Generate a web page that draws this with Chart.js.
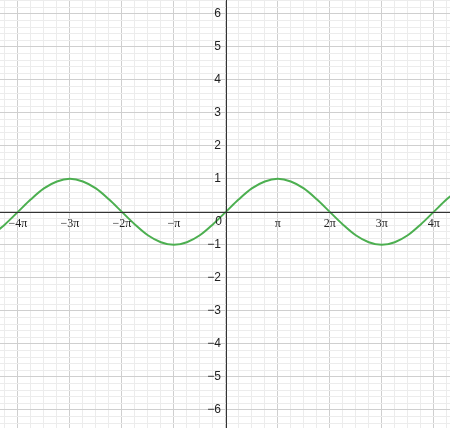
<!DOCTYPE html>
<html>
<head>
<meta charset="utf-8">
<script src="https://cdn.jsdelivr.net/npm/chart.js@4"></script>
<style>
  html, body { margin: 0; padding: 0; background: #fff; }
  #wrap { width: 450px; height: 428px; }
</style>
</head>
<body>
<div id="wrap"><canvas id="graph"></canvas></div>
<script>
// curve samples, x in quarter-pi steps, y
const xQuarterPi = [-18,-17,-16,-15,-14,-13,-12,-11,-10,-9,-8,-7,-6,-5,-4,-3,-2,-1,0,
  1,2,3,4,5,6,7,8,9,10,11,12,13,14,15,16,17,18];
const yValues = [-0.71,-0.38,0,0.38,0.71,0.92,1,0.92,0.71,0.38,0,-0.38,-0.71,-0.92,-1,-0.92,-0.71,-0.38,0,
  0.38,0.71,0.92,1,0.92,0.71,0.38,0,-0.38,-0.71,-0.92,-1,-0.92,-0.71,-0.38,0,0.38,0.71];
const xTickLabels = ["−4π","−3π","−2π","−π","π","2π","3π","4π"];
const xTickPi = [-4,-3,-2,-1,1,2,3,4];
const yTickLabels = [-6,-5,-4,-3,-2,-1,1,2,3,4,5,6];

const PI = Math.PI;
const points = xQuarterPi.map((k, i) => ({ x: k * PI / 4, y: yValues[i] }));

// draw axes lines and labels near the axes like the graphing app does
const axisLabels = {
  id: "axisLabels",
  afterDraw(chart) {
    const { ctx, scales: { x, y } } = chart;
    const x0 = x.getPixelForValue(0), y0 = y.getPixelForValue(0);
    ctx.save();
    ctx.strokeStyle = "#333";
    ctx.lineWidth = 1;
    ctx.beginPath();
    ctx.moveTo(0, Math.round(y0) + 0.5); ctx.lineTo(chart.width, Math.round(y0) + 0.5);
    ctx.moveTo(Math.round(x0) + 0.5, 0); ctx.lineTo(Math.round(x0) + 0.5, chart.height);
    ctx.stroke();
    ctx.fillStyle = "#222";
    ctx.font = "12px 'Liberation Serif', serif";
    ctx.textAlign = "center";
    ctx.textBaseline = "top";
    xTickPi.forEach((m, i) => ctx.fillText(xTickLabels[i], x.getPixelForValue(m * PI), y0 + 6));
    ctx.font = "12px 'Liberation Sans', sans-serif";
    ctx.textAlign = "right";
    ctx.textBaseline = "middle";
    yTickLabels.forEach(v => ctx.fillText(v < 0 ? "−" + (-v) : String(v), x0 - 5, y.getPixelForValue(v)));
    ctx.textBaseline = "top";
    ctx.fillText("0", x0 - 4, y0 + 4);
    ctx.restore();
  }
};

new Chart(document.getElementById("graph"), {
  type: "scatter",
  data: {
    datasets: [{
      data: points,
      showLine: true,
      borderColor: "#4caf50",
      borderWidth: 2,
      pointRadius: 0,
      cubicInterpolationMode: "monotone"
    }]
  },
  options: {
    responsive: true,
    maintainAspectRatio: false,
    animation: false,
    layout: { padding: 0 },
    plugins: { legend: { display: false }, tooltip: { enabled: false } },
    scales: {
      x: {
        type: "linear", min: -13.65, max: 13.55,
        afterBuildTicks: s => {
          const t = [];
          for (let k = -17; k <= 17; k++) t.push({ value: k * PI / 4 });
          s.ticks = t;
        },
        ticks: { display: false },
        border: { display: false },
        grid: {
          drawTicks: false,
          color: c => (Math.round(c.tick.value / PI * 4) % 4 === 0 ? "#cfcfcf" : "#ececec")
        }
      },
      y: {
        type: "linear", min: -6.55, max: 6.42,
        afterBuildTicks: s => {
          const t = [];
          for (let k = -32; k <= 32; k++) t.push({ value: k / 5 });
          s.ticks = t;
        },
        ticks: { display: false },
        border: { display: false },
        grid: {
          drawTicks: false,
          color: c => (Math.round(c.tick.value * 5) % 5 === 0 ? "#cfcfcf" : "#ececec")
        }
      }
    }
  },
  plugins: [axisLabels]
});
</script>
</body>
</html>
